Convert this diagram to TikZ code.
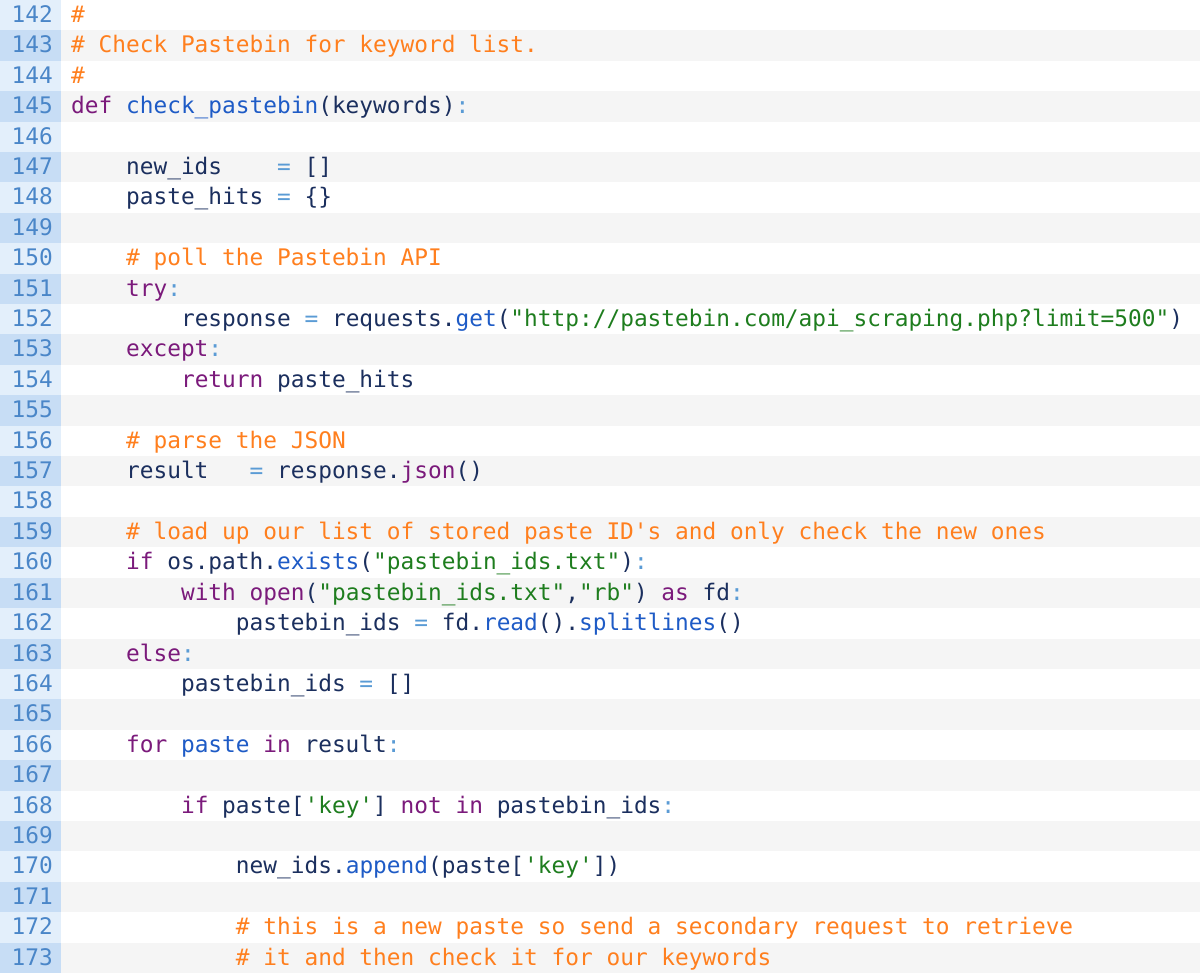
\documentclass[tikz,border=0pt]{standalone}
\usepackage{fontspec}
\setmonofont{DejaVu Sans Mono}
\definecolor{kw}{HTML}{7B1A7B}
\definecolor{nv}{HTML}{1B2F5E}
\definecolor{fn}{HTML}{1E5BC6}
\definecolor{st}{HTML}{1E7D1E}
\definecolor{cm}{HTML}{FF7F1E}
\definecolor{op}{HTML}{5A9BD5}
\definecolor{lnum}{HTML}{4A86C8}
\definecolor{gutA}{HTML}{E3EFFB}
\definecolor{gutB}{HTML}{C7DDF5}
\definecolor{rowB}{HTML}{F5F5F5}
\newcommand\K[1]{\textcolor{kw}{#1}}
\newcommand\N[1]{\textcolor{nv}{#1}}
\newcommand\F[1]{\textcolor{fn}{#1}}
\newcommand\Sx[1]{\textcolor{st}{#1}}
\newcommand\Cm[1]{\textcolor{cm}{#1}}
\newcommand\Op[1]{\textcolor{op}{#1}}
\tikzset{codetxt/.style={anchor=base west,inner sep=0pt,font=\ttfamily\fontsize{22.8}{22.8}\selectfont},
 numtxt/.style={anchor=base east,inner sep=0pt,text=lnum,font=\ttfamily\fontsize{22.8}{22.8}\selectfont}}
% row k (0-based), line number, indent cols, content
\newcommand\CL[4]{%
  \pgfmathsetmacro\rt{973-#1*30.406}%
  \pgfmathsetmacro\rb{\rt-30.406}%
  \pgfmathsetmacro\bl{\rt-22.5}%
  \pgfmathtruncatemacro\odd{mod(#2,2)}%
  \ifnum\odd=1
    \fill[rowB] (61,\rb) rectangle (1200,\rt);
    \fill[gutB] (0,\rb) rectangle (61,\rt);
  \else
    \fill[gutA] (0,\rb) rectangle (61,\rt);
  \fi
  \node[numtxt] (n#2) at (53,\bl) {#2};
  \node[codetxt] (c#2) at ({71+#3*13.73},\bl) {#4};
}
\begin{document}
\begin{tikzpicture}[x=1pt,y=1pt]
\useasboundingbox (0,0) rectangle (1200,973);
\fill[white] (0,0) rectangle (1200,973);
\CL{0}{142}{0}{\Cm{\#}}
\CL{1}{143}{0}{\Cm{\# Check Pastebin for keyword list.}}
\CL{2}{144}{0}{\Cm{\#}}
\CL{3}{145}{0}{\K{def} \F{check\_pastebin}\N{(keywords)}\Op{:}}
\CL{4}{146}{0}{}
\CL{5}{147}{4}{\N{new\_ids}~~~~\Op{=}~\N{[]}}
\CL{6}{148}{4}{\N{paste\_hits}~\Op{=}~\N{\{\}}}
\CL{7}{149}{0}{}
\CL{8}{150}{4}{\Cm{\# poll the Pastebin API}}
\CL{9}{151}{4}{\K{try}\Op{:}}
\CL{10}{152}{8}{\N{response}~\Op{=}~\N{requests.}\F{get}\N{(}\Sx{"http://pastebin.com/api\_scraping.php?limit=500"}\N{)}}
\CL{11}{153}{4}{\K{except}\Op{:}}
\CL{12}{154}{8}{\K{return}~\N{paste\_hits}}
\CL{13}{155}{0}{}
\CL{14}{156}{4}{\Cm{\# parse the JSON}}
\CL{15}{157}{4}{\N{result}~~~\Op{=}~\N{response.}\K{json}\N{()}}
\CL{16}{158}{0}{}
\CL{17}{159}{4}{\Cm{\# load up our list of stored paste ID's and only check the new ones}}
\CL{18}{160}{4}{\K{if}~\N{os.path.}\F{exists}\N{(}\Sx{"pastebin\_ids.txt"}\N{)}\Op{:}}
\CL{19}{161}{8}{\K{with}~\K{open}\N{(}\Sx{"pastebin\_ids.txt"}\N{,}\Sx{"rb"}\N{)}~\K{as}~\N{fd}\Op{:}}
\CL{20}{162}{12}{\N{pastebin\_ids}~\Op{=}~\N{fd.}\F{read}\N{().}\F{splitlines}\N{()}}
\CL{21}{163}{4}{\K{else}\Op{:}}
\CL{22}{164}{8}{\N{pastebin\_ids}~\Op{=}~\N{[]}}
\CL{23}{165}{0}{}
\CL{24}{166}{4}{\K{for}~\F{paste}~\K{in}~\N{result}\Op{:}}
\CL{25}{167}{0}{}
\CL{26}{168}{8}{\K{if}~\N{paste[}\Sx{'key'}\N{]}~\K{not}~\K{in}~\N{pastebin\_ids}\Op{:}}
\CL{27}{169}{0}{}
\CL{28}{170}{12}{\N{new\_ids.}\F{append}\N{(paste[}\Sx{'key'}\N{])}}
\CL{29}{171}{0}{}
\CL{30}{172}{12}{\Cm{\# this is a new paste so send a secondary request to retrieve}}
\CL{31}{173}{12}{\Cm{\# it and then check it for our keywords}}
\end{tikzpicture}
\end{document}
